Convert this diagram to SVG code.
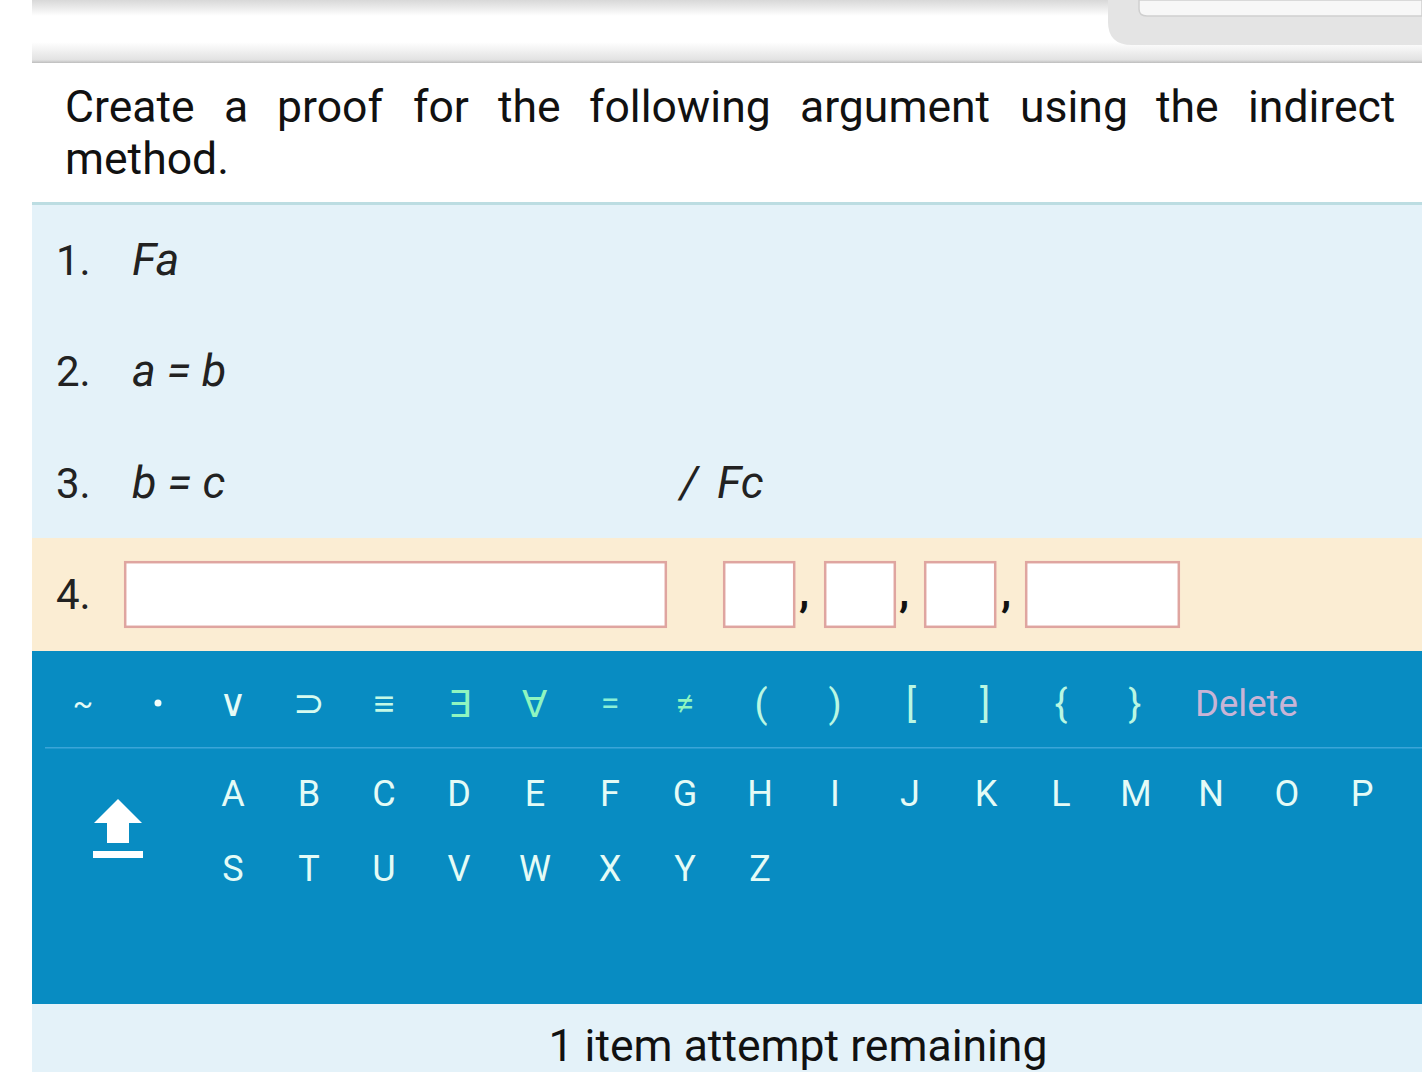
<svg xmlns="http://www.w3.org/2000/svg" width="1422" height="1072" viewBox="0 0 1422 1072">
<defs>
<linearGradient id="topShade" x1="0" y1="0" x2="0" y2="1"><stop offset="0" stop-color="#d8d8d8"/><stop offset="1" stop-color="#ffffff"/></linearGradient>
<linearGradient id="botShade" x1="0" y1="0" x2="0" y2="1"><stop offset="0" stop-color="#ffffff"/><stop offset="0.85" stop-color="#e2e2e2"/><stop offset="1" stop-color="#bdbdbd"/></linearGradient>
</defs>
<style>
text{font-family:Roboto,"Liberation Sans",sans-serif}
.h{font-size:44.5px;fill:#111}
.n{font-size:42px;fill:#222}
.i{font-size:45px;fill:#222;font-style:italic}
.k{font-size:36px;fill:#e4fbf6;text-anchor:middle}
.s{fill:#b9f7e2;text-anchor:middle}
.m{fill:#8ff5c0;text-anchor:middle}
.c{font-size:42px;font-weight:700;fill:#111}
.box{fill:#fff;stroke:#dfa5a0;stroke-width:2.5}
</style>
<rect width="1422" height="1072" fill="#fff"/>
<g id="header">
<rect x="32" y="0" width="1390" height="16" fill="url(#topShade)"/>
<rect x="32" y="42" width="1390" height="21" fill="url(#botShade)"/>
<path d="M1108 0V22Q1108 45 1132 45H1422V0Z" fill="#e4e4e4"/>
<path d="M1139 0V9Q1139 16 1147 16H1422V0Z" fill="#f7f7f7" stroke="#cfcfcf" stroke-width="1.500"/>
</g>
<g id="prompt">
<text class="h" x="65" y="122">Create</text><text class="h" x="224" y="122">a</text><text class="h" x="277" y="122">proof</text><text class="h" x="413" y="122">for</text><text class="h" x="498" y="122">the</text><text class="h" x="589" y="122">following</text><text class="h" x="800" y="122">argument</text><text class="h" x="1020" y="122">using</text><text class="h" x="1156" y="122">the</text><text class="h" x="1248" y="122">indirect</text>
<text class="h" x="65" y="174">method.</text>
</g>
<g id="premises">
<rect x="32" y="202" width="1390" height="336" fill="#e4f2f9"/>
<rect x="32" y="202" width="1390" height="3" fill="#bcdde2"/>
<text class="n" x="56" y="275">1.</text><text class="i" x="132" y="275">Fa</text>
<text class="n" x="56" y="386">2.</text><text class="i" x="132" y="386">a = b</text>
<text class="n" x="56" y="498">3.</text><text class="i" x="132" y="498">b = c</text>
<text class="i" x="680" y="498">/</text><text class="i" x="717" y="498">Fc</text>
</g>
<g id="answer-row">
<rect x="32" y="538" width="1390" height="113" fill="#fbedd3"/>
<text class="n" x="56" y="609">4.</text>
<rect class="box" x="125.200" y="562.200" width="540.600" height="64.600"/>
<rect class="box" x="724.200" y="562.200" width="70" height="64.600"/>
<text class="c" x="799" y="606">,</text>
<rect class="box" x="825.200" y="562.200" width="69.600" height="64.600"/>
<text class="c" x="899" y="606">,</text>
<rect class="box" x="925.200" y="562.200" width="70" height="64.600"/>
<text class="c" x="1001" y="606">,</text>
<rect class="box" x="1026.200" y="562.200" width="152.600" height="64.600"/>
</g>
<g id="keyboard">
<rect x="32" y="651" width="1390" height="353" fill="#088cc2"/>
<rect x="45" y="747" width="1377" height="1.500" fill="#3aa5d8"/>
<text class="s" x="83" y="714" font-size="30" style="fill:#e4fbf6">~</text>
<circle cx="158" cy="703" r="3.500" fill="#f2fdfb"/>
<text class="s" x="233" y="716" font-size="38" style="fill:#e4fbf6">∨</text>
<text class="s" x="309" y="716" font-size="38" style="fill:#d6fbf0">⊃</text>
<text class="s" x="384" y="716" font-size="36" style="fill:#c4f9e6">≡</text>
<text class="m" x="459" y="717" font-size="37">∃</text>
<text class="m" x="534" y="717" font-size="37">∀</text>
<text class="s" x="610" y="715" font-size="34" style="fill:#8af0d6">=</text>
<text class="m" x="685" y="715" font-size="34">≠</text>
<g font-size="38">
<text class="s" x="761" y="717">(</text><text class="s" x="835" y="717">)</text>
<text class="s" x="911" y="717">[</text><text class="s" x="985" y="717">]</text>
<text class="s" x="1061" y="717">{</text><text class="s" x="1135" y="717">}</text>
</g>
<text x="1195" y="716" font-size="36.500" fill="#c8b4d6">Delete</text>
<path d="M118 799L142 823H129V843H107V823H94Z" fill="#fff"/>
<rect x="93" y="851" width="50" height="7" fill="#fff"/>
<text class="k" x="233" y="806">A</text><text class="k" x="309" y="806">B</text><text class="k" x="384" y="806">C</text><text class="k" x="459" y="806">D</text><text class="k" x="535" y="806">E</text><text class="k" x="610" y="806">F</text><text class="k" x="685" y="806">G</text><text class="k" x="760" y="806">H</text><text class="k" x="835" y="806">I</text><text class="k" x="910" y="806">J</text><text class="k" x="986" y="806">K</text><text class="k" x="1061" y="806">L</text><text class="k" x="1136" y="806">M</text><text class="k" x="1211" y="806">N</text><text class="k" x="1287" y="806">O</text><text class="k" x="1362" y="806">P</text>
<text class="k" x="233" y="881">S</text><text class="k" x="309" y="881">T</text><text class="k" x="384" y="881">U</text><text class="k" x="459" y="881">V</text><text class="k" x="535" y="881">W</text><text class="k" x="610" y="881">X</text><text class="k" x="685" y="881">Y</text><text class="k" x="760" y="881">Z</text>
</g>
<g id="footer">
<rect x="32" y="1004" width="1390" height="68" fill="#e4f2f9"/>
<text x="798" y="1061" font-size="44.500" fill="#111" text-anchor="middle">1 item attempt remaining</text>
</g>
</svg>
